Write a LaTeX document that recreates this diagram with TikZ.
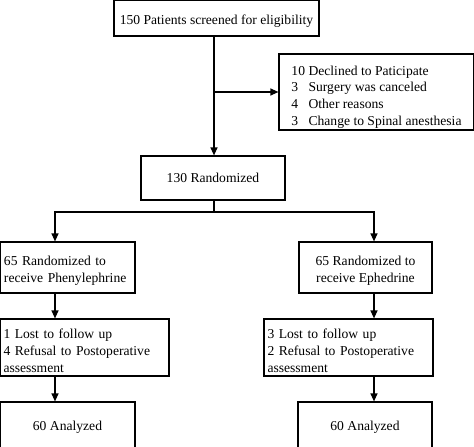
\documentclass[tikz,border=0pt]{standalone}
\usepackage{fontspec}
\setmainfont{Liberation Serif}
\usetikzlibrary{arrows.meta}
\usetikzlibrary{positioning}

% text block lowered inside its box
\newcommand{\droptext}[3]{\raisebox{-#1}[\height][\depth]{\begin{tabular}{@{}#2@{}}#3\end{tabular}}}

\tikzset{
 box/.style={draw, line width=1.2pt, font=\fontsize{13.6}{16.7}\selectfont, inner ysep=0pt},
 arr/.style={line width=1.2pt, -{Triangle[length=8pt,width=7pt]}}
}

\begin{document}
\begin{tikzpicture}[x=1pt,y=-1pt]
 \useasboundingbox (0,0) rectangle (474,447);
 % boxes
 \node[box, minimum width=205pt, minimum height=36pt] (screen) at (216.5,18) {\droptext{3.5pt}{c}{150 Patients screened for eligibility}};
 \node[box, minimum width=195pt, minimum height=76pt, align=left] (excl) at (376.5,92)
  {\droptext{5pt}{l@{\hspace{3.5pt}}l}{10 & Declined to Paticipate\\ 3 & Surgery was canceled\\ 4 & Other reasons\\ 3 & Change to Spinal anesthesia}};
 \node[box, minimum width=144pt, minimum height=44pt] (rand) at (213,178) {\droptext{1pt}{c}{130 Randomized}};
 \node[box, text width=127pt, inner xsep=4pt, minimum height=51pt, align=left] (pheny) at (67.5,267.5) {\droptext{3.5pt}{l}{65 Randomized to\\receive Phenylephrine}};
 \node[box, minimum width=133pt, minimum height=51pt] (ephed) at (365.5,267.5) {\droptext{3.5pt}{c}{65 Randomized to\\receive Ephedrine}};
 \node[box, text width=162pt, inner xsep=3.5pt, minimum height=57pt, align=left] (lossL) at (84.5,347.5) {\droptext{4.5pt}{l}{1 Lost to follow up\\4 Refusal to Postoperative\\assessment}};
 \node[box, text width=162pt, inner xsep=3.5pt, minimum height=57pt, align=left] (lossR) at (348.5,347.5) {\droptext{4.5pt}{l}{3 Lost to follow up\\2 Refusal to Postoperative\\assessment}};
 \node[box, minimum width=135pt, minimum height=50pt] (anaL) at (67.5,427) {60 Analyzed};
 \node[box, minimum width=134pt, minimum height=50pt] (anaR) at (365,427) {60 Analyzed};
 % columns
 \coordinate (colM) at (214,0);
 \coordinate (colL) at (55,0);
 \coordinate (colR) at (374,0);
 \coordinate (split) at (214,212);
 % connectors
 \draw[arr] (screen.south -| colM) -- (rand.north -| colM);
 \draw[arr] (colM |- excl.west) -- (excl.west);
 \draw[line width=1.2pt] (rand.south -| colM) -- (split);
 \draw[arr] (split) -| (pheny.north -| colL);
 \draw[arr] (split) -| (ephed.north -| colR);
 \draw[arr] (pheny.south -| colL) -- (lossL.north -| colL);
 \draw[arr] (ephed.south -| colR) -- (lossR.north -| colR);
 \draw[arr] (lossL.south -| colL) -- (anaL.north -| colL);
 \draw[arr] (lossR.south -| colR) -- (anaR.north -| colR);
\end{tikzpicture}
\end{document}
